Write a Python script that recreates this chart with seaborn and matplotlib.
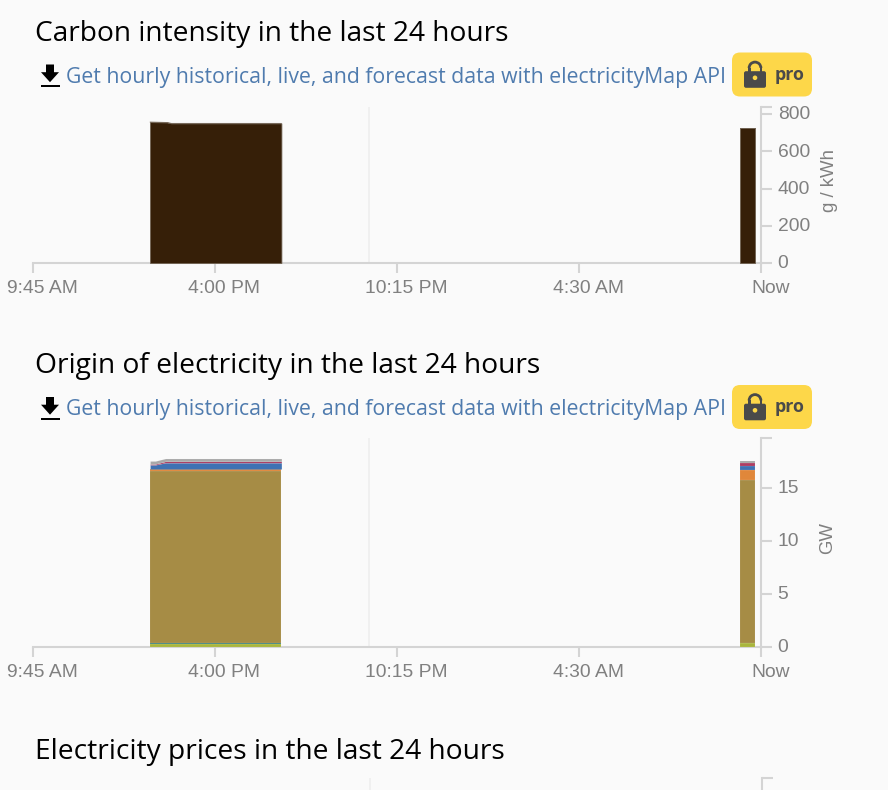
import matplotlib
matplotlib.use("Agg")
import matplotlib.pyplot as plt
from matplotlib.patches import FancyBboxPatch, Polygon, Rectangle, Wedge
from matplotlib.transforms import ScaledTranslation
import numpy as np
import pandas as pd
import seaborn as sns

TITLES = ["Carbon intensity in the last 24 hours",
          "Origin of electricity in the last 24 hours",
          "Electricity prices in the last 24 hours"]
LINK = "Get hourly historical, live, and forecast data with electricityMap API"
TICK_HOURS = [0, 6.25, 12.5, 18.75, 25]
TICK_LABELS = ["9:45 AM", "4:00 PM", "10:15 PM", "4:30 AM", "Now"]
GRID_HOUR = 11.55

# carbon intensity (g / kWh)
c_hours_a = [4.02, 4.6, 4.75, 8.53]
c_vals_a = [757, 755, 750, 750]
c_hours_b = [24.29, 24.79]
c_vals_b = [725, 725]
C_TICKS = [0, 200, 400, 600, 800]

# origin of electricity (GW), stacked bottom to top
o_hours_a = [4.02, 4.2, 4.55, 8.53]
o_hours_b = [24.29, 24.79]
o_colors = ["#a9b53c", "#3a7f78", "#a68c45", "#e0873a", "#3f72b3", "#ad3d62", "#a9a9a9"]
o_a = [
    [0.22, 0.22, 0.22, 0.22],        # biomass
    [0.08, 0.08, 0.08, 0.08],        # hydro / wind
    [16.30, 16.30, 16.30, 16.30],    # coal
    [0.20, 0.20, 0.20, 0.20],        # oil
    [0.40, 0.40, 0.60, 0.60],        # gas
    [0.08, 0.08, 0.13, 0.13],        # nuclear
    [0.28, 0.28, 0.27, 0.27],        # other
]
o_b = [
    [0.30, 0.30],
    [0.00, 0.00],
    [15.50, 15.50],
    [0.90, 0.90],
    [0.35, 0.35],
    [0.31, 0.31],
    [0.20, 0.20],
]
O_TICKS = [0, 5, 10, 15]

BG = "#fafafa"
AXC = "#d4d4d4"
TXT = "#808080"
BADGE = "#fdd749"
W, H = 888, 790

sns.set_theme(style="white", rc={"figure.facecolor": BG, "axes.facecolor": "none"})
plt.rcParams["font.family"] = ["Liberation Sans", "DejaVu Sans"]

fig = plt.figure(figsize=(W / 100, H / 100), dpi=100, facecolor=BG)

# overlay in pixel coordinates for the page furniture
page = fig.add_axes([0, 0, 1, 1], zorder=5)
page.set_xlim(0, W)
page.set_ylim(H, 0)
page.axis("off")


def chart_axes(top, bottom, left=33, right=761):
    return fig.add_axes([left / W, 1 - bottom / H, (right - left) / W, (bottom - top) / H])


def style_axes(ax, ymax, yticks):
    ax.set_xlim(0, 25)
    ax.set_ylim(0, ymax)
    sns.despine(ax=ax, top=True, left=True, right=False, bottom=False)
    ax.yaxis.tick_right()
    ax.spines["right"].set_color(AXC)
    ax.spines["bottom"].set_color(AXC)
    ax.spines["right"].set_linewidth(1.5)
    ax.spines["bottom"].set_linewidth(1.5)
    ax.set_xticks(TICK_HOURS, TICK_LABELS)
    ax.set_yticks(yticks)
    ax.set_yticks([ymax], minor=True)
    ax.yaxis.set_tick_params(which="minor", right=True, length=8, width=1.5, color=AXC, labelright=False)
    ax.tick_params(axis="x", bottom=True, length=7.5, width=1.5, color=AXC, labelsize=13.9,
                   labelcolor=TXT, pad=5)
    ax.tick_params(axis="y", which="major", right=True, length=8, width=1.5, color=AXC, labelsize=13.9,
                   labelcolor=TXT, pad=4)
    shift = ScaledTranslation(9.3 / 100, 0, fig.dpi_scale_trans)
    for lab in ax.get_xticklabels():
        lab.set_transform(lab.get_transform() + shift)
    lift = ScaledTranslation(0, 1.3 / 100, fig.dpi_scale_trans)
    for lab in ax.get_yticklabels():
        lab.set_transform(lab.get_transform() + lift)
    ax.axvline(GRID_HOUR, color="#eeeeee", lw=1.2, zorder=0)
    ax.set_xlabel("")
    ax.set_ylabel("")


def header(y_title, y_link, text, with_link=True):
    page.text(35, y_title, text, fontsize=20.26, color="black", family=["Open Sans", "DejaVu Sans"],
              va="center", ha="left")
    if not with_link:
        return
    page.text(66, y_link, LINK, fontsize=15.3, color="#4f7bae", family=["Open Sans", "DejaVu Sans"],
              va="center", ha="left")
    # download icon
    c = 50
    page.add_patch(Polygon([(c - 4, y_link - 13), (c + 4, y_link - 13), (c + 4, y_link - 5.3),
                            (c + 9, y_link - 5.3), (c, y_link + 4.7), (c - 9, y_link - 5.3),
                            (c - 4, y_link - 5.3)], closed=True, fc="black", ec="none"))
    page.add_patch(Rectangle((c - 9.5, y_link + 7.5), 19, 2.2, fc="black", ec="none"))
    # pro badge
    yc = y_link - 3
    page.add_patch(FancyBboxPatch((732, yc - 22), 80, 44, boxstyle="round,pad=0,rounding_size=8",
                                  fc=BADGE, ec="none"))
    dark = "#4a4a4a"
    page.add_patch(FancyBboxPatch((744, yc - 3.3), 22, 16.6, boxstyle="round,pad=0,rounding_size=2",
                                  fc=dark, ec="none"))
    page.add_patch(Wedge((755, yc - 6.5), 7.3, 180, 360, width=2.8, fc=dark, ec="none"))
    page.add_patch(Rectangle((747.7, yc - 6.6), 2.8, 4, fc=dark, ec="none"))
    page.add_patch(Rectangle((759.5, yc - 6.6), 2.8, 4, fc=dark, ec="none"))
    page.add_patch(plt.Circle((755, yc + 3.3), 2.3, fc=BADGE, ec="none"))
    page.text(789.5, yc, "pro", fontsize=12.8, fontweight="bold", color=dark, va="center", ha="center",
              family=["Open Sans", "DejaVu Sans"])


header(34.5, 77.5, TITLES[0])
header(366.5, 410, TITLES[1])
header(752, 0, TITLES[2], with_link=False)

# --- carbon intensity ---
ax1 = chart_axes(107, 263)
for hrs, vals in [(c_hours_a, c_vals_a), (c_hours_b, c_vals_b)]:
    df = pd.DataFrame({"hour": hrs, "g": vals})
    ax1.fill_between(df["hour"], 0, df["g"], color="#361f08", lw=0.6, ec="#6f6050", zorder=3)
    sns.lineplot(data=df, x="hour", y="g", ax=ax1, color="#6f6050", lw=0.6, estimator=None, sort=False, zorder=3)
style_axes(ax1, 838, C_TICKS)
page.text(829, 180, "g / kWh", rotation=90, fontsize=13.4, color=TXT, ha="center", va="center")

# --- origin of electricity ---
ax2 = chart_axes(438, 646.5)
edge = (1, 1, 1, 0.2)
ax2.stackplot(o_hours_a, np.array(o_a), colors=o_colors, lw=0.3, edgecolor=edge, zorder=3)
ax2.stackplot(o_hours_b, np.array(o_b), colors=o_colors, lw=0.3, edgecolor=edge, zorder=3)
style_axes(ax2, 19.74, O_TICKS)
page.text(827.5, 538, "GW", rotation=90, fontsize=13.4, color=TXT, ha="center", va="center")

# --- electricity prices (only the top of the chart is on the page) ---
ax3 = chart_axes(778, 935, right=762)
ax3.set_xlim(0, 25)
ax3.set_ylim(0, 1)
sns.despine(ax=ax3, top=True, left=True, bottom=True, right=False)
ax3.spines["right"].set_color(AXC)
ax3.spines["right"].set_linewidth(1.5)
ax3.set_xticks([])
ax3.yaxis.tick_right()
ax3.set_yticks([1], [""])
ax3.tick_params(axis="y", right=True, length=8, width=1.5, color=AXC)
ax3.axvline(GRID_HOUR, color="#eeeeee", lw=1.2, zorder=0)

fig.savefig("out.png", dpi=100, facecolor=BG)
